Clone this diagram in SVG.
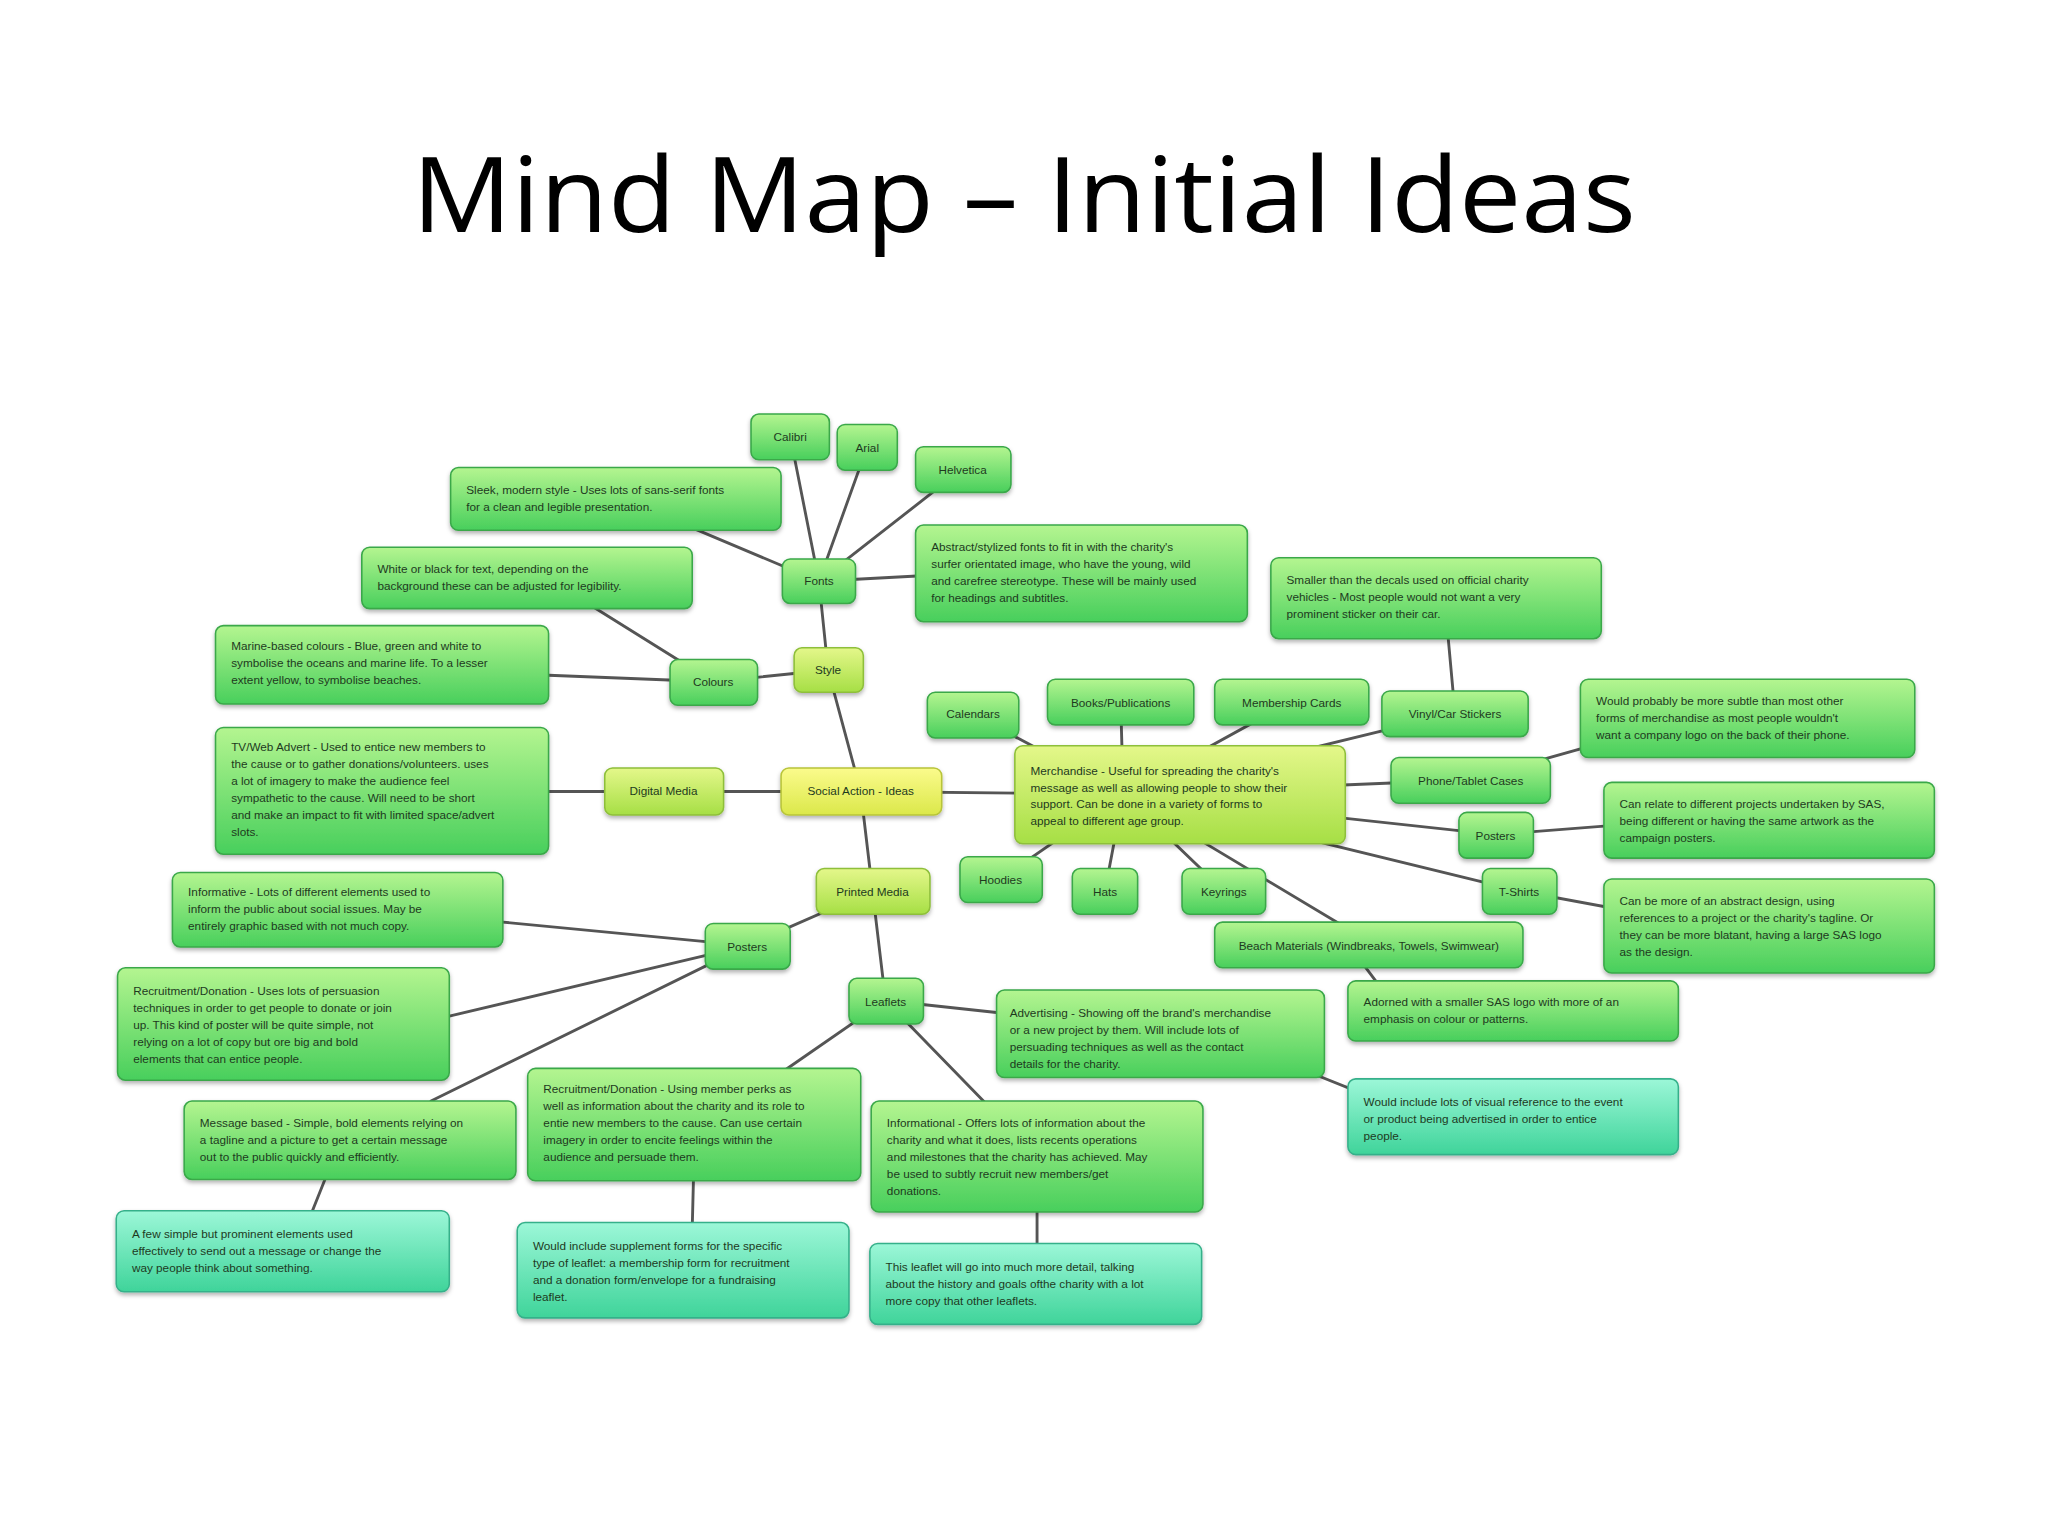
<svg xmlns="http://www.w3.org/2000/svg" width="2048" height="1536" viewBox="0 0 2048 1536">
<defs>
<linearGradient id="gG" x1="0" y1="0" x2="0" y2="1"><stop offset="0" stop-color="#b4f590"/><stop offset="1" stop-color="#48cf5c"/></linearGradient>
<linearGradient id="gT" x1="0" y1="0" x2="0" y2="1"><stop offset="0" stop-color="#9cf7d8"/><stop offset="1" stop-color="#3fd49a"/></linearGradient>
<linearGradient id="gY" x1="0" y1="0" x2="0" y2="1"><stop offset="0" stop-color="#fbfb8c"/><stop offset="1" stop-color="#dbe84a"/></linearGradient>
<linearGradient id="gL" x1="0" y1="0" x2="0" y2="1"><stop offset="0" stop-color="#e4f78a"/><stop offset="1" stop-color="#a6df45"/></linearGradient>
<filter id="sh" x="-10%" y="-10%" width="120%" height="130%"><feDropShadow dx="0" dy="2" stdDeviation="1.5" flood-color="#000" flood-opacity="0.3"/></filter>
</defs>
<style>
.n rect{stroke:#3aa84a;stroke-width:1.2;filter:url(#sh)}
.g rect{fill:url(#gG)}
.t rect{fill:url(#gT);stroke:#36b08a}
.y rect{fill:url(#gY);stroke:#b8c43a}
.l rect{fill:url(#gL);stroke:#8ebf3a}
.n text{font-family:"Liberation Sans",Arial,sans-serif;font-size:9px;fill:#1e3a1e}
.c{text-anchor:middle}
#edges line{stroke:#555;stroke-width:2.2;stroke-linecap:round}
.title{font-family:"Open Sans","Liberation Sans",sans-serif;font-size:80px;fill:#000;text-anchor:middle}
</style>
<rect width="2048" height="1536" fill="#fff"/>
<g transform="scale(1.30612)">
<text class="title" x="784" y="178" textLength="937" lengthAdjust="spacingAndGlyphs">Mind Map – Initial Ideas</text>
<g id="edges">
<line x1="627" y1="445" x2="605" y2="334"/>
<line x1="627" y1="445" x2="664" y2="342"/>
<line x1="627" y1="445" x2="737" y2="359"/>
<line x1="627" y1="445" x2="520" y2="400"/>
<line x1="627" y1="445" x2="720" y2="440"/>
<line x1="627" y1="445" x2="634" y2="513"/>
<line x1="634" y1="513" x2="546" y2="522"/>
<line x1="546" y1="522" x2="450" y2="462"/>
<line x1="546" y1="522" x2="420" y2="517"/>
<line x1="634" y1="513" x2="659" y2="606"/>
<line x1="659" y1="606" x2="508" y2="606"/>
<line x1="508" y1="606" x2="420" y2="606"/>
<line x1="659" y1="606" x2="860" y2="608"/>
<line x1="659" y1="606" x2="668" y2="682"/>
<line x1="860" y1="608" x2="745" y2="547"/>
<line x1="860" y1="608" x2="858" y2="537"/>
<line x1="860" y1="608" x2="989" y2="537"/>
<line x1="860" y1="608" x2="1114" y2="546"/>
<line x1="1114" y1="546" x2="1108" y2="480"/>
<line x1="860" y1="608" x2="1126" y2="597"/>
<line x1="1126" y1="597" x2="1240" y2="565"/>
<line x1="860" y1="608" x2="1145" y2="639"/>
<line x1="1145" y1="639" x2="1260" y2="630"/>
<line x1="860" y1="608" x2="1163" y2="682"/>
<line x1="1163" y1="682" x2="1260" y2="700"/>
<line x1="860" y1="608" x2="766" y2="673"/>
<line x1="860" y1="608" x2="846" y2="682"/>
<line x1="860" y1="608" x2="937" y2="682"/>
<line x1="860" y1="608" x2="1030" y2="710"/>
<line x1="1030" y1="720" x2="1060" y2="760"/>
<line x1="668" y1="682" x2="572" y2="724"/>
<line x1="668" y1="682" x2="678" y2="766"/>
<line x1="572" y1="724" x2="385" y2="706"/>
<line x1="572" y1="724" x2="344" y2="778"/>
<line x1="572" y1="724" x2="330" y2="843"/>
<line x1="250" y1="900" x2="238" y2="930"/>
<line x1="678" y1="766" x2="770" y2="776"/>
<line x1="678" y1="766" x2="600" y2="820"/>
<line x1="678" y1="766" x2="755" y2="845"/>
<line x1="1000" y1="820" x2="1050" y2="840"/>
<line x1="531" y1="900" x2="530" y2="940"/>
<line x1="794" y1="925" x2="794" y2="955"/>
</g>
<g id="n-calibri" class="n g"><rect x="575" y="317" width="60" height="35" rx="6"/><text class="c" x="605" y="338">Calibri</text></g>
<g id="n-arial" class="n g"><rect x="641" y="325" width="46" height="35" rx="6"/><text class="c" x="664" y="346">Arial</text></g>
<g id="n-helvetica" class="n g"><rect x="701" y="342" width="73" height="35" rx="6"/><text class="c" x="737" y="363">Helvetica</text></g>
<g id="n-sleek" class="n g"><rect x="345" y="358" width="253" height="48" rx="6"/><text x="357" y="378">Sleek, modern style - Uses lots of sans-serif fonts</text><text x="357" y="391">for a clean and legible presentation.</text></g>
<g id="n-abstract" class="n g"><rect x="701" y="402" width="254" height="74" rx="6"/><text x="713" y="422">Abstract/stylized fonts to fit in with the charity's</text><text x="713" y="435">surfer orientated image, who have the young, wild</text><text x="713" y="448">and carefree stereotype. These will be mainly used</text><text x="713" y="461">for headings and subtitles.</text></g>
<g id="n-fonts" class="n g"><rect x="599" y="428" width="56" height="34" rx="6"/><text class="c" x="627" y="448">Fonts</text></g>
<g id="n-white" class="n g"><rect x="277" y="419" width="253" height="47" rx="6"/><text x="289" y="439">White or black for text, depending on the</text><text x="289" y="452">background these can be adjusted for legibility.</text></g>
<g id="n-smaller" class="n g"><rect x="973" y="427" width="253" height="62" rx="6"/><text x="985" y="447">Smaller than the decals used on official charity</text><text x="985" y="460">vehicles - Most people would not want a very</text><text x="985" y="473">prominent sticker on their car.</text></g>
<g id="n-style" class="n l"><rect x="608" y="496" width="53" height="34" rx="6"/><text class="c" x="634" y="516">Style</text></g>
<g id="n-marine" class="n g"><rect x="165" y="479" width="255" height="60" rx="6"/><text x="177" y="498">Marine-based colours - Blue, green and white to</text><text x="177" y="511">symbolise the oceans and marine life. To a lesser</text><text x="177" y="524">extent yellow, to symbolise beaches.</text></g>
<g id="n-colours" class="n g"><rect x="513" y="505" width="67" height="35" rx="6"/><text class="c" x="546" y="525">Colours</text></g>
<g id="n-calendars" class="n g"><rect x="710" y="530" width="70" height="35" rx="6"/><text class="c" x="745" y="550">Calendars</text></g>
<g id="n-books" class="n g"><rect x="802" y="520" width="112" height="35" rx="6"/><text class="c" x="858" y="541">Books/Publications</text></g>
<g id="n-membership" class="n g"><rect x="930" y="520" width="118" height="35" rx="6"/><text class="c" x="989" y="541">Membership Cards</text></g>
<g id="n-vinyl" class="n g"><rect x="1058" y="529" width="112" height="35" rx="6"/><text class="c" x="1114" y="550">Vinyl/Car Stickers</text></g>
<g id="n-probably" class="n g"><rect x="1210" y="520" width="256" height="60" rx="6"/><text x="1222" y="540">Would probably be more subtle than most other</text><text x="1222" y="553">forms of merchandise as most people wouldn't</text><text x="1222" y="566">want a company logo on the back of their phone.</text></g>
<g id="n-tvweb" class="n g"><rect x="165" y="557" width="255" height="97" rx="6"/><text x="177" y="575">TV/Web Advert - Used to entice new members to</text><text x="177" y="588">the cause or to gather donations/volunteers. uses</text><text x="177" y="601">a lot of imagery to make the audience feel</text><text x="177" y="614">sympathetic to the cause. Will need to be short</text><text x="177" y="627">and make an impact to fit with limited space/advert</text><text x="177" y="640">slots.</text></g>
<g id="n-digital" class="n l"><rect x="463" y="588" width="91" height="36" rx="6"/><text class="c" x="508" y="609">Digital Media</text></g>
<g id="n-social" class="n y"><rect x="598" y="588" width="123" height="36" rx="6"/><text class="c" x="659" y="609">Social Action - Ideas</text></g>
<g id="n-merch" class="n l"><rect x="777" y="571" width="253" height="75" rx="6"/><text x="789" y="593">Merchandise - Useful for spreading the charity's</text><text x="789" y="606">message as well as allowing people to show their</text><text x="789" y="619">support. Can be done in a variety of forms to</text><text x="789" y="632">appeal to different age group.</text></g>
<g id="n-phone" class="n g"><rect x="1065" y="580" width="122" height="35" rx="6"/><text class="c" x="1126" y="601">Phone/Tablet Cases</text></g>
<g id="n-relate" class="n g"><rect x="1228" y="599" width="253" height="58" rx="6"/><text x="1240" y="619">Can relate to different projects undertaken by SAS,</text><text x="1240" y="632">being different or having the same artwork as the</text><text x="1240" y="645">campaign posters.</text></g>
<g id="n-postersR" class="n g"><rect x="1117" y="622" width="57" height="35" rx="6"/><text class="c" x="1145" y="643">Posters</text></g>
<g id="n-hoodies" class="n g"><rect x="735" y="656" width="63" height="35" rx="6"/><text class="c" x="766" y="677">Hoodies</text></g>
<g id="n-hats" class="n g"><rect x="821" y="665" width="50" height="35" rx="6"/><text class="c" x="846" y="686">Hats</text></g>
<g id="n-keyrings" class="n g"><rect x="905" y="665" width="64" height="35" rx="6"/><text class="c" x="937" y="686">Keyrings</text></g>
<g id="n-tshirts" class="n g"><rect x="1135" y="665" width="57" height="35" rx="6"/><text class="c" x="1163" y="686">T-Shirts</text></g>
<g id="n-canbe" class="n g"><rect x="1228" y="673" width="253" height="72" rx="6"/><text x="1240" y="693">Can be more of an abstract design, using</text><text x="1240" y="706">references to a project or the charity's tagline. Or</text><text x="1240" y="719">they can be more blatant, having a large SAS logo</text><text x="1240" y="732">as the design.</text></g>
<g id="n-informative" class="n g"><rect x="132" y="668" width="253" height="57" rx="6"/><text x="144" y="686">Informative - Lots of different elements used to</text><text x="144" y="699">inform the public about social issues. May be</text><text x="144" y="712">entirely graphic based with not much copy.</text></g>
<g id="n-printed" class="n l"><rect x="625" y="665" width="87" height="35" rx="6"/><text class="c" x="668" y="686">Printed Media</text></g>
<g id="n-beach" class="n g"><rect x="930" y="706" width="236" height="35" rx="6"/><text class="c" x="1048" y="727">Beach Materials (Windbreaks, Towels, Swimwear)</text></g>
<g id="n-postersL" class="n g"><rect x="540" y="707" width="65" height="35" rx="6"/><text class="c" x="572" y="728">Posters</text></g>
<g id="n-recruitP" class="n g"><rect x="90" y="741" width="254" height="86" rx="6"/><text x="102" y="762">Recruitment/Donation - Uses lots of persuasion</text><text x="102" y="775">techniques in order to get people to donate or join</text><text x="102" y="788">up. This kind of poster will be quite simple, not</text><text x="102" y="801">relying on a lot of copy but ore big and bold</text><text x="102" y="814">elements that can entice people.</text></g>
<g id="n-leaflets" class="n g"><rect x="650" y="749" width="57" height="35" rx="6"/><text class="c" x="678" y="770">Leaflets</text></g>
<g id="n-adorned" class="n g"><rect x="1032" y="751" width="253" height="46" rx="6"/><text x="1044" y="770">Adorned with a smaller SAS logo with more of an</text><text x="1044" y="783">emphasis on colour or patterns.</text></g>
<g id="n-advertising" class="n g"><rect x="763" y="758" width="251" height="67" rx="6"/><text x="773" y="779">Advertising - Showing off the brand's merchandise</text><text x="773" y="792">or a new project by them. Will include lots of</text><text x="773" y="805">persuading techniques as well as the contact</text><text x="773" y="818">details for the charity.</text></g>
<g id="n-recruitL" class="n g"><rect x="404" y="818" width="255" height="86" rx="6"/><text x="416" y="837">Recruitment/Donation - Using member perks as</text><text x="416" y="850">well as information about the charity and its role to</text><text x="416" y="863">entie new members to the cause. Can use certain</text><text x="416" y="876">imagery in order to encite feelings within the</text><text x="416" y="889">audience and persuade them.</text></g>
<g id="n-visual" class="n t"><rect x="1032" y="826" width="253" height="58" rx="6"/><text x="1044" y="847">Would include lots of visual reference to the event</text><text x="1044" y="860">or product being advertised in order to entice</text><text x="1044" y="873">people.</text></g>
<g id="n-message" class="n g"><rect x="141" y="843" width="254" height="60" rx="6"/><text x="153" y="863">Message based - Simple, bold elements relying on</text><text x="153" y="876">a tagline and a picture to get a certain message</text><text x="153" y="889">out to the public quickly and efficiently.</text></g>
<g id="n-informational" class="n g"><rect x="667" y="843" width="254" height="85" rx="6"/><text x="679" y="863">Informational - Offers lots of information about the</text><text x="679" y="876">charity and what it does, lists recents operations</text><text x="679" y="889">and milestones that the charity has achieved. May</text><text x="679" y="902">be used to subtly recruit new members/get</text><text x="679" y="915">donations.</text></g>
<g id="n-afew" class="n t"><rect x="89" y="927" width="255" height="62" rx="6"/><text x="101" y="948">A few simple but prominent elements used</text><text x="101" y="961">effectively to send out a message or change the</text><text x="101" y="974">way people think about something.</text></g>
<g id="n-supplement" class="n t"><rect x="396" y="936" width="254" height="73" rx="6"/><text x="408" y="957">Would include supplement forms for the specific</text><text x="408" y="970">type of leaflet: a membership form for recruitment</text><text x="408" y="983">and a donation form/envelope for a fundraising</text><text x="408" y="996">leaflet.</text></g>
<g id="n-thisleaflet" class="n t"><rect x="666" y="952" width="254" height="62" rx="6"/><text x="678" y="973">This leaflet will go into much more detail, talking</text><text x="678" y="986">about the history and goals ofthe charity with a lot</text><text x="678" y="999">more copy that other leaflets.</text></g>
</g>
</svg>
